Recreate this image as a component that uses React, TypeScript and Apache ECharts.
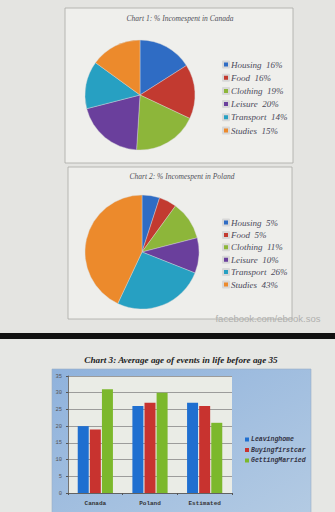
import React, { useEffect, useRef } from "react";
import * as echarts from "echarts";

const pieCategories = ["Housing", "Food", "Clothing", "Leisure", "Transport", "Studies"];
const canadaValues = [16, 16, 19, 20, 14, 15];
const polandValues = [5, 5, 11, 10, 26, 43];
const pieColors = ["#2f6cc4", "#c23a30", "#8db63a", "#6a3f9c", "#27a0c2", "#ec8a2c"];

const barCategories = ["Canada", "Poland", "Estimated"];
const barSeriesNames = ["Leavinghome", "Buyingfirstcar", "GettingMarried"];
const leavingHome = [20, 26, 27];
const buyingFirstCar = [19, 27, 26];
const gettingMarried = [31, 30, 21];
const barColors = ["#1f6fd0", "#c8332f", "#7cb82c"];
const yTicks = [0, 5, 10, 15, 20, 25, 30, 35];

export default function App() {
  const ref = useRef<HTMLDivElement>(null);
  useEffect(() => {
    const chart = echarts.init(ref.current!, null, { renderer: "svg" });
    const pieData = (vals: number[]) =>
      pieCategories.map((c, i) => ({ name: c, value: vals[i], itemStyle: { color: pieColors[i] } }));
    const legendText = (vals: number[]) => (name: string) => {
      const i = pieCategories.indexOf(name);
      return name + "  " + vals[i] + "%";
    };
    const pieLegendBase = {
      orient: "vertical" as const,
      itemWidth: 6,
      itemHeight: 6,
      icon: "rect",
      selectedMode: false,
      data: pieCategories,
    };
    const barData = [leavingHome, buyingFirstCar, gettingMarried];
    chart.setOption({
      animation: false,
      backgroundColor: "#e4e4e1",
      graphic: [
        { type: "rect", shape: { x: 65, y: 8, width: 228, height: 155 }, style: { fill: "#efefec", stroke: "#a8a8a4", lineWidth: 0.8 }, z: -10 },
        { type: "rect", shape: { x: 68, y: 167, width: 224, height: 152 }, style: { fill: "#eeeeeb", stroke: "#a8a8a4", lineWidth: 0.8 }, z: -10 },
        { type: "rect", shape: { x: 0, y: 333, width: 335, height: 6 }, style: { fill: "#111111" }, z: -10 },
        { type: "rect", shape: { x: 0, y: 339, width: 335, height: 173 }, style: { fill: "#e6e7e4" }, z: -11 },
        {
          type: "rect",
          shape: { x: 52, y: 369, width: 259, height: 150 },
          style: {
            fill: new echarts.graphic.LinearGradient(0, 0, 1, 1, [
              { offset: 0, color: "#8fb2dc" },
              { offset: 1, color: "#b4cbe3" },
            ]),
            stroke: "#9ab0c8",
            lineWidth: 0.6,
          },
          z: -10,
        },
        { type: "rect", shape: { x: 68, y: 376, width: 164, height: 117 }, style: { fill: "#eaece6" }, z: -9 },
        { type: "text", x: 180, y: 18, style: { text: "Chart 1: % Incomespent in Canada", font: "italic 7.5px 'Liberation Serif'", fill: "#505058", align: "center", verticalAlign: "middle" } },
        { type: "text", x: 182, y: 176, style: { text: "Chart 2: % Incomespent in Poland", font: "italic 7.5px 'Liberation Serif'", fill: "#505058", align: "center", verticalAlign: "middle" } },
        { type: "text", x: 181, y: 360, style: { text: "Chart 3: Average age of events in life before age 35", font: "italic bold 9.2px 'Liberation Serif'", fill: "#222", align: "center", verticalAlign: "middle" } },
        { type: "text", x: 268, y: 318, style: { text: "facebook.com/ebook.sos", font: "9.5px 'Liberation Sans'", fill: "#b0b0ae", align: "center", verticalAlign: "middle" } },
      ],
      legend: [
        {
          ...pieLegendBase,
          left: 217,
          top: 55,
          itemGap: 4.2,
          formatter: legendText(canadaValues),
          textStyle: { fontFamily: "Liberation Serif", fontStyle: "italic", fontSize: 9, lineHeight: 9, color: "#4a4a5a", padding: [0, 0, 0, -3] },
        },
        {
          ...pieLegendBase,
          left: 217,
          top: 213,
          itemGap: 3.4,
          formatter: legendText(polandValues),
          textStyle: { fontFamily: "Liberation Serif", fontStyle: "italic", fontSize: 9, lineHeight: 9, color: "#4a4a5a", padding: [0, 0, 0, -3] },
        },
        {
          orient: "vertical",
          left: 240,
          top: 431,
          itemWidth: 4,
          itemHeight: 4,
          itemGap: 3.5,
          icon: "rect",
          selectedMode: false,
          data: barSeriesNames,
          textStyle: { fontFamily: "Liberation Mono", fontStyle: "italic", fontWeight: "bold", fontSize: 6.5, lineHeight: 6.5, color: "#334", padding: [0, 0, 0, -3] },
        },
      ],
      grid: { left: 68, top: 376, width: 164, height: 117 },
      xAxis: {
        type: "category",
        data: barCategories,
        axisLine: { lineStyle: { color: "#555", width: 0.8 } },
        axisTick: { show: true, length: 2, lineStyle: { color: "#555" } },
        axisLabel: { fontFamily: "Liberation Mono", fontWeight: "bold", fontSize: 6, color: "#333", margin: 7 },
      },
      yAxis: {
        type: "value",
        min: 0,
        max: 35,
        interval: 5,
        axisLine: { show: true, lineStyle: { color: "#555", width: 0.8 } },
        axisTick: { show: true, length: 2, lineStyle: { color: "#555" } },
        axisLabel: { fontFamily: "Liberation Mono", fontSize: 5.5, color: "#555", margin: 6, formatter: (v: number) => (yTicks.includes(v) ? String(v) : "") },
        splitLine: { lineStyle: { color: "#888", width: 0.8 } },
      },
      series: [
        {
          type: "pie",
          center: [140, 95],
          radius: 55,
          startAngle: 90,
          clockwise: true,
          label: { show: false },
          labelLine: { show: false },
          silent: true,
          itemStyle: { borderColor: "#d8d8d8", borderWidth: 0.4 },
          data: pieData(canadaValues),
        },
        {
          type: "pie",
          center: [142, 252],
          radius: 57,
          startAngle: 90,
          clockwise: true,
          label: { show: false },
          labelLine: { show: false },
          silent: true,
          itemStyle: { borderColor: "#d8d8d8", borderWidth: 0.4 },
          data: pieData(polandValues),
        },
        ...barSeriesNames.map((n, i) => ({
          type: "bar",
          name: n,
          data: barData[i],
          barWidth: 11,
          barGap: "10%",
          itemStyle: { color: barColors[i] },
        })),
      ],
    });
    return () => chart.dispose();
  }, []);
  return <div ref={ref} style={{ position: "fixed", left: 0, top: 0, width: 335, height: 512 }} />;
}
